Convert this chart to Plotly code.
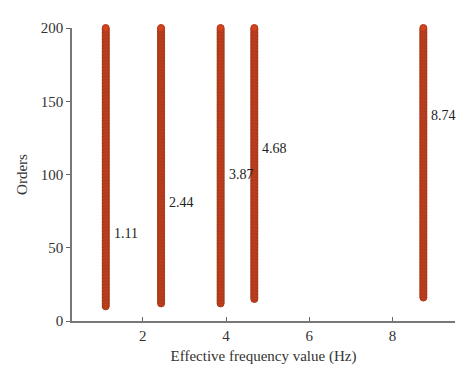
import plotly.graph_objects as go

# Data
freqs = [1.11, 2.44, 3.87, 4.68, 8.74]
order_start = [10, 12, 12, 15, 16]
order_end = [200, 200, 200, 200, 200]
label_texts = ["1.11", "2.44", "3.87", "4.68", "8.74"]
label_orders = [60, 81, 100, 118, 140]
x_ticks = [2, 4, 6, 8]
y_ticks = [0, 50, 100, 150, 200]

fig = go.Figure()
for f, s, e in zip(freqs, order_start, order_end):
    orders = list(range(s, e + 1))
    fig.add_trace(go.Scatter(
        x=[f] * len(orders), y=orders, mode="markers",
        marker=dict(size=7, color="#d4431b", line=dict(color="#a83a1e", width=1)),
        cliponaxis=False, showlegend=False, hoverinfo="skip"))

for f, t, o in zip(freqs, label_texts, label_orders):
    fig.add_annotation(x=f, y=o, text=t, showarrow=False, xanchor="left",
                       xshift=6, font=dict(family="Liberation Serif", size=14, color="#222"))

font = dict(family="Liberation Serif", size=15, color="#333")
fig.update_layout(
    width=474, height=383,
    margin=dict(l=60, r=27, t=15, b=70),
    plot_bgcolor="white", paper_bgcolor="white",
    font=font,
    xaxis=dict(range=[0.3, 9.5], tickvals=x_ticks, ticks="inside", ticklen=4,
               tickcolor="#666", showline=True, linecolor="#777", linewidth=1.5,
               showgrid=False, zeroline=False,
               title=dict(text="Effective frequency value (Hz)", font=font, standoff=8)),
    yaxis=dict(range=[0, 200], tickvals=y_ticks, ticks="outside", ticklen=4,
               tickcolor="#666", showline=True, linecolor="#777", linewidth=1.5,
               showgrid=False, zeroline=False,
               title=dict(text="Orders", font=font, standoff=10)),
)
fig.write_html("out.html")
